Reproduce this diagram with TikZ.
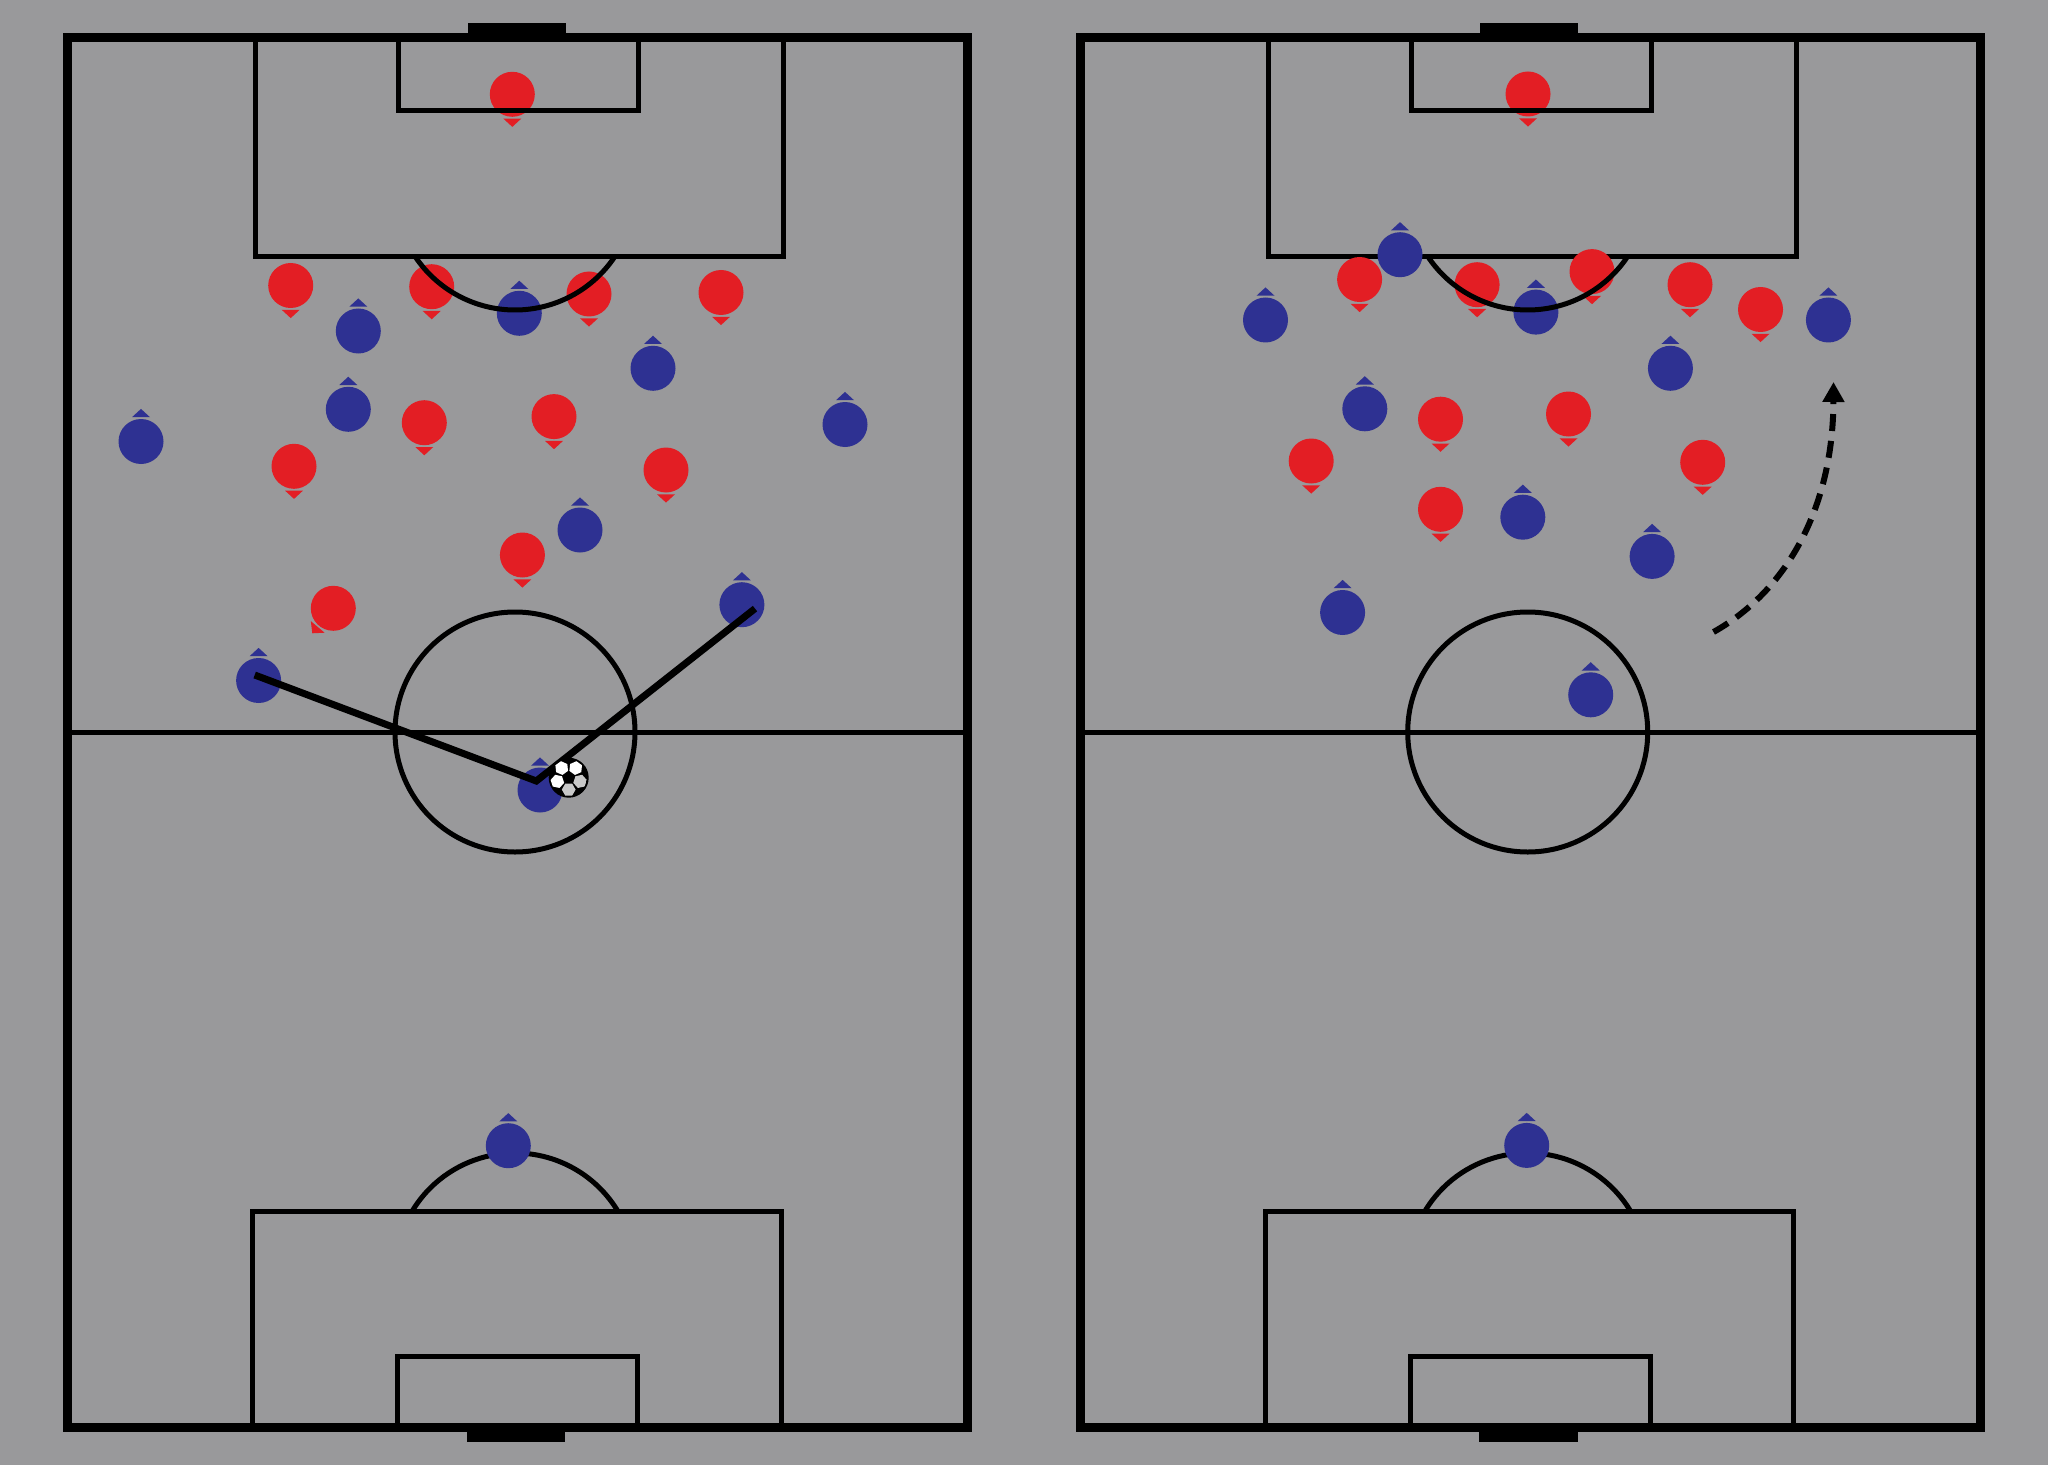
\documentclass[tikz,border=0pt]{standalone}
\usetikzlibrary{calc,arrows.meta}
\definecolor{bg}{RGB}{153,153,155}
\definecolor{pred}{RGB}{227,30,36}
\definecolor{pblue}{RGB}{46,49,146}
\definecolor{ballgrey}{RGB}{200,200,200}
\newcommand\redpl[3]{\node[redp] (#1) at (#2,#3) {};
  \fill[pred] ($(#1)+(-9,24.3)$) -- ($(#1)+(9,24.3)$) -- ($(#1)+(0,32.6)$) -- cycle;}
\newcommand\bluepl[3]{\node[bluep] (#1) at (#2,#3) {};
  \fill[pblue] ($(#1)+(-9,-24.3)$) -- ($(#1)+(9,-24.3)$) -- ($(#1)+(0,-32.6)$) -- cycle;}
\newcommand\pitchbase{%
  \fill (467.7,22.7) rectangle (565.7,38);
  \fill (466.7,1427) rectangle (565,1442.3);
  \draw[pitchout] (67.8,37.8) rectangle (967.5,1427);
  \draw[pitchin] (67.8,732.5) -- (967.5,732.5);
  \draw[pitchin] (515,732) circle[radius=120];
  \draw[pitchin] (255.8,37.8) rectangle (783.7,256.8);
  \draw[pitchin] (252.5,1427) rectangle (781,1211.5);
  \draw[pitchin] (397.3,1427) rectangle (637.4,1356.5);
  \draw[pitchin] (515,1273) ++(210.8:120) arc[start angle=210.8,end angle=329.2,radius=120];
}
\newcommand\pitchtop{%
  \draw[pitchin] (398.4,37.8) rectangle (638.7,111);
  \draw[pitchin] (515,190) ++(33.8:120) arc[start angle=33.8,end angle=146.2,radius=120];
}
\begin{document}
\begin{tikzpicture}[x=0.5pt,y=-0.5pt,
  pitchout/.style={line width=4.5pt},
  pitchin/.style={line width=2.5pt},
  redp/.style={circle,fill=pred,minimum size=22.5pt,inner sep=0pt},
  bluep/.style={circle,fill=pblue,minimum size=22.5pt,inner sep=0pt},
  pass/.style={line width=3.5pt},
  run/.style={line width=3pt,dash pattern=on 8.5pt off 5pt,-{Triangle[width=10.5pt,length=10pt]}}
]
\fill[bg] (0,0) rectangle (2048,1465);
\useasboundingbox (0,0) rectangle (2048,1465);
% pitches
\pitchbase
\begin{scope}[shift={(1012.7,0)}]\pitchbase\end{scope}
% left pitch players
\redpl{rl1}{512.3}{94.3}
\redpl{rl2}{290.7}{285.5}
\redpl{rl3}{431.7}{286.7}
\redpl{rl4}{589}{294}
\redpl{rl5}{721}{292.5}
\redpl{rl6}{424.3}{422.7}
\redpl{rl7}{554}{416.6}
\redpl{rl8}{294}{466.3}
\redpl{rl9}{666}{470}
\redpl{rl10}{522.4}{555}
\node[redp] (rl11) at (333.3,608.3) {};
\fill[pred] ($(rl11)+(-22.5,12.8)$) -- ($(rl11)+(-8.7,24.4)$) -- ($(rl11)+(-21,25)$) -- cycle;
\bluepl{bl1}{358.3}{331}
\bluepl{bl2}{519.3}{313.3}
\bluepl{bl3}{653}{368.3}
\bluepl{bl4}{348.3}{409.3}
\bluepl{bl5}{141}{441.5}
\bluepl{bl6}{845}{424.5}
\bluepl{bl7}{580}{530}
\bluepl{bl8}{258.6}{680.5}
\bluepl{bl9}{741.9}{604.7}
\bluepl{bl10}{540}{790}
\bluepl{bl11}{508.3}{1145.7}
% right pitch players
\redpl{rr1}{1528}{94}
\redpl{rr2}{1359.6}{279.5}
\redpl{rr3}{1477.1}{284.7}
\redpl{rr4}{1592}{271.6}
\redpl{rr5}{1690}{284.7}
\redpl{rr6}{1760.5}{309.5}
\redpl{rr7}{1440.5}{419.2}
\redpl{rr8}{1568.5}{414}
\redpl{rr9}{1311.2}{461}
\redpl{rr10}{1702.7}{462.3}
\redpl{rr11}{1440.5}{509.3}
\bluepl{br1}{1400}{254.7}
\bluepl{br2}{1265.5}{320}
\bluepl{br3}{1535.9}{312.1}
\bluepl{br4}{1828.4}{320}
\bluepl{br5}{1670.4}{368.3}
\bluepl{br6}{1364.8}{408.8}
\bluepl{br7}{1522.8}{517.2}
\bluepl{br8}{1652.1}{556.4}
\bluepl{br9}{1342.6}{612.5}
\bluepl{br10}{1590.7}{694.8}
\bluepl{br11}{1526.7}{1145.4}
% lines drawn over players
\pitchtop
\begin{scope}[shift={(1012.7,0)}]\pitchtop\end{scope}
% pass lines
\coordinate (p1) at (254.7,675);
\coordinate (p2) at (536.3,781);
\coordinate (p3) at (755,608.6);
\draw[pass] (p1) -- (p2) -- (p3);
% ball
\coordinate (ball) at (568.7,777.7);
\begin{scope}[shift={(ball)}]
  \fill[black] (0,0) circle[radius=20];
  \begin{scope}
    \clip (0,0) circle[radius=18.3];
    \foreach \a/\c in {-54/white,18/ballgrey,90/ballgrey,162/white,234/white}{
      \fill[\c,shift={(\a:11.9)}] (\a+30:6.9) -- (\a+90:6.9) -- (\a+150:6.9) -- (\a+210:6.9) -- (\a+270:6.9) -- (\a+330:6.9) -- cycle;
    }
  \end{scope}
\end{scope}
% run arrow
\coordinate (rs) at (1713.5,632);
\coordinate (re) at (1833.5,382);
\draw[run] (rs) .. controls (1785,592) and (1833,510) .. (re);
\end{tikzpicture}
\end{document}
